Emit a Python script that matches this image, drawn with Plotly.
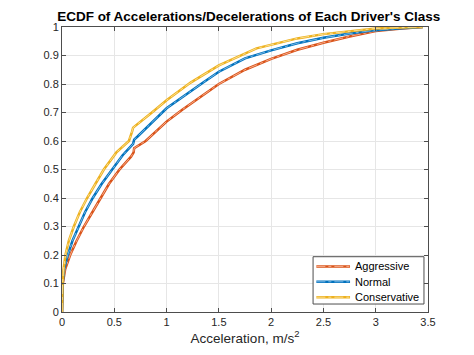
import plotly.graph_objects as go

# Data (ECDF curves)
aggr_x = [0, 0.002, 0.008, 0.03, 0.078, 0.14, 0.21, 0.29, 0.37, 0.45, 0.55, 0.66, 0.685, 0.69, 0.80, 1.0, 1.15, 1.32, 1.5, 1.75, 2.0, 2.25, 2.5, 2.75, 3.0, 3.25, 3.45]
aggr_y = [0, 0.05, 0.10, 0.15, 0.20, 0.25, 0.30, 0.35, 0.40, 0.45, 0.50, 0.545, 0.56, 0.575, 0.60, 0.668, 0.71, 0.755, 0.80, 0.85, 0.888, 0.92, 0.945, 0.967, 0.986, 0.995, 1.0]

norm_x = [0, 0.002, 0.006, 0.02, 0.055, 0.10, 0.16, 0.22, 0.294, 0.38, 0.48, 0.58, 0.68, 0.69, 0.72, 0.956, 1.0, 1.35, 1.5, 1.75, 2.0, 2.25, 2.5, 2.75, 3.0, 3.25, 3.45]
norm_y = [0, 0.05, 0.10, 0.15, 0.20, 0.25, 0.30, 0.35, 0.40, 0.45, 0.50, 0.55, 0.59, 0.605, 0.615, 0.70, 0.715, 0.805, 0.843, 0.89, 0.918, 0.943, 0.962, 0.977, 0.989, 0.996, 1.0]

cons_x = [0, 0.002, 0.005, 0.015, 0.033, 0.065, 0.113, 0.17, 0.24, 0.32, 0.40, 0.52, 0.64, 0.67, 0.68, 0.86, 1.0, 1.23, 1.5, 1.86, 2.0, 2.25, 2.5, 2.75, 3.0, 3.25, 3.45]
cons_y = [0, 0.05, 0.10, 0.15, 0.20, 0.25, 0.30, 0.35, 0.40, 0.45, 0.50, 0.56, 0.60, 0.633, 0.647, 0.70, 0.743, 0.805, 0.865, 0.925, 0.937, 0.96, 0.975, 0.986, 0.995, 0.998, 1.0]

names = ["Aggressive", "Normal", "Conservative"]
colors = ["#D95319", "#0072BD", "#EDB120"]
light = ["rgba(255,200,175,0.95)", "rgba(160,205,240,0.95)", "rgba(255,238,180,0.95)"]

x_ticks = [0, 0.5, 1, 1.5, 2, 2.5, 3, 3.5]
x_tick_labels = ["0", "0.5", "1", "1.5", "2", "2.5", "3", "3.5"]
y_ticks = [0, 0.1, 0.2, 0.3, 0.4, 0.5, 0.6, 0.7, 0.8, 0.9, 1]
y_tick_labels = ["0", "0.1", "0.2", "0.3", "0.4", "0.5", "0.6", "0.7", "0.8", "0.9", "1"]

series = [(aggr_x, aggr_y), (norm_x, norm_y), (cons_x, cons_y)]

fig = go.Figure()
for (xs, ys), nm, c, lc in zip(series, names, colors, light):
    fig.add_trace(go.Scatter(x=xs, y=ys, mode="lines", name=nm, legendgroup=nm, showlegend=False,
                             line=dict(color=c, width=2.5)))
    fig.add_trace(go.Scatter(x=xs, y=ys, mode="lines", name=nm, legendgroup=nm, showlegend=False,
                             line=dict(color=lc, width=0.8, dash="dashdot")))

# Legend box (paper coordinates, drawn like the MATLAB legend)
lg_left, lg_right, lg_top, lg_bottom = 0.686, 0.989, 0.194, 0.028
row_y = [0.160, 0.106, 0.052]
fig.add_shape(type="rect", xref="paper", yref="paper", x0=lg_left, x1=lg_right, y0=lg_bottom, y1=lg_top,
              fillcolor="white", line=dict(color="#4d4d4d", width=1), layer="above")
for nm, c, lc, ry in zip(names, colors, light, row_y):
    fig.add_shape(type="line", xref="paper", yref="paper", x0=0.695, x1=0.787, y0=ry, y1=ry,
                  line=dict(color=c, width=2.5), layer="above")
    fig.add_shape(type="line", xref="paper", yref="paper", x0=0.695, x1=0.787, y0=ry, y1=ry,
                  line=dict(color=lc, width=0.8, dash="dashdot"), layer="above")
    fig.add_annotation(xref="paper", yref="paper", x=0.795, y=ry, text=nm, showarrow=False,
                       xanchor="left", yanchor="middle",
                       font=dict(family="Liberation Sans, Arial", size=11, color="black"))

axis_common = dict(showline=True, linecolor="#4d4d4d", linewidth=1, mirror="ticks",
                   ticks="inside", ticklen=4, tickcolor="#4d4d4d",
                   showgrid=True, gridcolor="#e6e6e6", gridwidth=1, zeroline=False,
                   tickfont=dict(family="Liberation Sans, Arial", size=11, color="#262626"))

fig.update_layout(
    width=466, height=347,
    margin=dict(l=54, r=46, t=19, b=41),
    paper_bgcolor="white", plot_bgcolor="white",
    title=dict(text="<b>ECDF of Accelerations/Decelerations of Each Driver's Class</b>",
               x=0.5165, xanchor="center", y=0.976, yanchor="middle",
               font=dict(family="Liberation Sans, Arial", size=13.5, color="black")),
    xaxis=dict(range=[0, 3.5], tickvals=x_ticks, ticktext=x_tick_labels,
               title=dict(text="Acceleration, m/s<sup>2</sup>", standoff=5,
                          font=dict(family="Liberation Sans, Arial", size=13.5, color="#262626")),
               **axis_common),
    yaxis=dict(range=[0, 1], tickvals=y_ticks, ticktext=y_tick_labels, **axis_common),
    showlegend=False,
)

fig.write_html("out.html")
